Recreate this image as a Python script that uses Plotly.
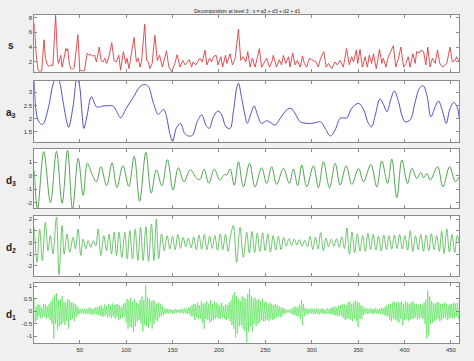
import plotly.graph_objects as go

# ---------------- data ----------------
title_text = "Decomposition at level 3 : s = a3 + d3 + d2 + d1"
panel_labels = ["<b>s</b>", "<b>a<sub>3</sub></b>", "<b>d<sub>3</sub></b>",
                "<b>d<sub>2</sub></b>", "<b>d<sub>1</sub></b>"]

x_ticks = [50, 100, 150, 200, 250, 300, 350, 400, 450]
x_ticklabels = ["50", "100", "150", "200", "250", "300", "350", "400", "450"]

s_ticks = [2, 4, 6, 8]
s_ticklabels = ["2", "4", "6", "8"]
a3_ticks = [1.5, 2, 2.5, 3]
a3_ticklabels = ["1.5", "2", "2.5", "3"]
d3_ticks = [-2, -1, 0, 1]
d3_ticklabels = ["-2", "-1", "0", "1"]
d2_ticks = [-2, -1, 0, 1, 2]
d2_ticklabels = ["-2", "-1", "0", "1", "2"]
d1_ticks = [-1, -0.5, 0, 0.5, 1]
d1_ticklabels = ["-1", "-0.5", "0", "0.5", "1"]

s_x = [1, 3, 5, 7, 9, 11.5, 13, 15, 17, 19,
       21, 24, 26, 27, 29.5, 31, 33, 35, 36, 37,
       38.5, 40, 42, 44, 48, 50, 52, 55, 58, 60,
       62, 64, 66, 68, 71, 73, 75, 77, 79, 81,
       84.5, 87, 89.5, 92, 94, 97, 99.5, 101, 103, 106,
       108.5, 111, 113, 115, 116.5, 120, 122, 124, 125.5, 128,
       131, 133.5, 136, 139, 143.5, 146, 149, 152.5, 155, 158,
       161, 163.5, 165, 168, 170.5, 172, 175, 179.5, 182, 185,
       187, 190, 192, 194, 197, 199, 202, 204, 207, 208.5,
       212, 214.5, 217.5, 221, 223.5, 226, 229, 231, 233.5, 236,
       239, 240.5, 243.5, 246, 248, 251.5, 254.5, 257, 258.5, 262,
       265, 267.5, 269.5, 272, 275, 276.5, 279.5, 282, 284.5, 287.5,
       290, 292, 294.5, 297.5, 300, 302, 304.5, 307, 309.5, 313,
       315.5, 318, 321.5, 325, 327.5, 330.5, 334, 337.5, 340.5, 343,
       345, 348, 349.5, 352, 354.5, 357.5, 360, 362, 364.5, 366.5,
       369.5, 373, 375.5, 377, 380, 382.5, 385, 388, 390.5, 393.5,
       396, 399, 401.5, 404, 406, 409, 411.5, 413, 416, 418,
       420.5, 423, 425, 427.5, 430, 433, 435.5, 438, 441, 445.5,
       449, 451.5, 454.5, 456, 459]
s_y = [7.2, 3.0, 0.9, 0.7, 0.8, 5.0, 2.5, 1.6, 1.4, 1.6,
       1.5, 8.3, 2.5, 1.8, 2.9, 1.3, 2.5, 3.8, 3.5, 3.8,
       2.0, 1.1, 1.0, 1.2, 5.7, 0.9, 0.8, 0.8, 3.2, 2.9,
       3.0, 2.8, 2.9, 2.0, 4.0, 2.2, 2.0, 2.5, 1.8, 2.5,
       4.6, 2.2, 2.0, 2.9, 0.9, 3.4, 1.8, 2.5, 1.1, 3.7,
       5.3, 2.0, 2.5, 1.3, 2.0, 7.1, 2.2, 2.0, 1.1, 1.8,
       5.6, 2.2, 2.9, 1.3, 3.5, 1.3, 0.7, 1.8, 3.0, 1.3,
       2.2, 1.6, 1.8, 2.3, 1.3, 2.0, 1.6, 2.5, 2.0, 3.6,
       1.6, 2.5, 2.0, 2.7, 2.9, 1.6, 2.7, 1.3, 2.9, 1.8,
       3.1, 1.6, 2.5, 6.4, 2.2, 2.7, 2.0, 3.4, 1.3, 2.5,
       1.3, 2.2, 3.8, 1.3, 1.8, 2.5, 1.3, 2.0, 2.9, 1.3,
       2.3, 1.6, 2.9, 1.8, 2.7, 1.3, 3.2, 1.6, 2.2, 1.3,
       2.8, 1.8, 1.3, 2.5, 2.3, 2.2, 2.0, 1.3, 2.5, 3.4,
       1.3, 1.8, 1.1, 2.0, 1.6, 2.2, 1.3, 3.8, 1.6, 2.7,
       2.0, 3.6, 1.8, 3.7, 1.3, 2.7, 1.3, 2.9, 1.8, 3.1,
       1.1, 3.7, 1.8, 2.5, 1.3, 2.7, 3.4, 4.2, 1.3, 2.5,
       4.0, 1.3, 1.8, 2.7, 1.3, 3.1, 1.8, 3.4, 3.2, 3.6,
       3.4, 1.6, 4.0, 1.3, 2.5, 1.8, 3.6, 1.8, 1.3, 1.8,
       4.0, 2.0, 2.2, 2.7, 2.0]

a3_pts = [(1, 3.41), (3, 2.26), (6, 1.88), (10, 1.78), (16, 2.39), (21, 3.28), (24.5, 3.6),
          (28, 3.41), (32, 2.64), (36, 1.88), (38, 1.67), (43, 2.52), (47, 3.6), (50, 3.2),
          (52, 2.39), (54.5, 1.63), (58, 2.14), (62.5, 2.83), (68, 2.45), (72, 2.45), (75, 2.48),
          (81, 2.49), (86, 2.48), (90, 2.26), (94, 2.03), (100, 2.39), (108, 2.83), (115, 3.22),
          (120, 3.30), (124, 3.22), (129, 2.64), (134.5, 2.16), (137.5, 2.26), (140.5, 2.35),
          (143.5, 2.07), (147, 1.44), (150, 1.14), (154, 1.63), (158.5, 1.82), (163, 1.44),
          (167, 1.34), (171.5, 1.37), (176.5, 1.88), (181.5, 2.14), (186, 1.75), (189.5, 1.63),
          (194, 2.07), (199, 2.29), (203, 2.14), (207.5, 1.69), (212, 1.63), (215.5, 2.26),
          (219, 3.15), (221, 3.34), (224.5, 2.77), (228, 2.14), (230.5, 1.82), (234, 2.14),
          (238, 2.48), (241.5, 2.14), (246, 1.82), (251.5, 1.92), (256, 1.84), (260.5, 1.75),
          (266, 2.01), (273, 2.33), (277.5, 2.39), (282, 2.2), (287.5, 1.88), (294.5, 1.82),
          (300, 1.82), (305.5, 1.86), (309.5, 1.88), (314.5, 1.63), (320, 1.34), (325, 1.56),
          (330.5, 2.01), (334, 2.03), (338, 2.03), (343, 2.39), (350.5, 2.58), (356, 2.33),
          (361, 1.82), (364.5, 1.69), (368.5, 2.14), (373.5, 2.75), (377.5, 2.52), (381, 2.26),
          (385.5, 2.77), (389, 3.05), (393.5, 2.64), (397, 2.14), (400.5, 1.88), (406, 1.95),
          (411.5, 2.64), (416, 3.15), (420, 3.25), (424, 2.9), (428.5, 2.07), (433, 2.45),
          (436.5, 2.67), (440.5, 2.33), (445, 1.82), (448.5, 2.33), (453, 2.62), (456.5, 2.45),
          (459, 2.0)]

d3_pts = [(1, 0.4), (4.5, -2.5), (11.2, 1.8), (18.4, -2.0), (24.9, 1.82), (31, -2.05),
          (36.8, 1.9), (42.2, -2.5), (48.3, 1.3), (53.7, -1.46), (58.2, 0.93), (63, 0.15),
          (68, -0.45), (72.7, 0.68), (79, -0.74), (84.8, 0.96), (90, -0.88), (96.5, 0.76),
          (102.8, -0.8), (108.7, 1.46), (114.5, -1.9), (121.2, 1.75), (127, -1.3), (132.5, 0.45),
          (138.5, -0.75), (144.5, 1.2), (150.5, -1.05), (156.2, 0.6), (162.3, -0.45), (169, 0.45),
          (176, -0.2), (179.5, -0.28), (184, 0.5), (189, -0.55), (195, 0.5), (201, -0.33),
          (205.8, 0.1), (208.3, 0.05), (212, 0.5), (216.5, -0.7), (221, 1.05), (226.3, -0.83),
          (233, 0.93), (238.8, -0.83), (246, 0.6), (251.4, -0.58), (256.8, 0.68), (262.2, -0.65),
          (269.4, 0.55), (275.9, -0.58), (280.2, 0.5), (284.9, -0.75), (289.2, 0.8), (294.6, -0.83),
          (301.8, 0.75), (307.2, -0.9), (312.6, 1.05), (319.1, -0.9), (325.2, 0.93), (330.6, -0.7),
          (337.1, 0.75), (343.2, -0.65), (350.4, 0.55), (355.8, -0.45), (363.7, 0.85), (370.1, -0.83),
          (375.5, 1.1), (381.7, -0.58), (386.3, 1.25), (391.7, -1.65), (397.1, 1.18), (403.2, -0.58),
          (407.9, 0.55), (413.3, -0.2), (417.6, 0.25), (420.5, -0.15), (424.1, 0.18), (427.7, -0.33),
          (435.6, 0.68), (441.4, -0.83), (448.6, 0.68), (454.7, -0.45), (459, -0.08)]

d2_pts = [(1, 1.31), (4, -1.69), (6.8, 1.17), (9.7, -1.54), (12.9, 1.74), (15.8, -0.69),
          (18.3, 0.6), (21.2, -0.97), (24.8, 2.17), (27.7, -2.75), (30.9, 1.46), (33.1, -0.97),
          (36.3, 0.74), (39.2, -0.83), (42.8, 0.46), (45.3, -0.54), (48.2, 1.17), (51.1, -1.11),
          (53.6, 0.31), (56.5, -0.54), (59, 0.17), (61.9, -0.4), (64.4, 0.17), (67.3, -0.26),
          (69.8, 1.17), (72.7, -1.11), (75.9, 0.6), (78.8, -0.69), (81.7, 0.74), (84.2, -0.97),
          (87.1, 0.89), (89.6, -1.11), (92.4, 0.89), (95.3, -1.26), (98.6, 0.89), (101.1, -1.4),
          (104, 1.03), (106.8, -1.4), (109.7, 1.17), (112.6, -1.54), (115.5, 1.31), (118.3, -1.54),
          (121.2, 1.37), (124.1, -1.6), (127.3, 1.6), (129.9, -1.54), (132.5, 2.03), (135, -1.4),
          (138.1, 0.74), (141, -0.69), (144.2, 0.6), (147.1, -0.54), (150, 0.55), (152.8, -0.6),
          (155.7, 0.7), (158.5, -0.5), (161.4, 0.45), (164.2, -0.35), (167, 0.4), (170, -0.45),
          (172.8, 0.5), (175.6, -0.6), (178.5, 0.65), (181.3, -0.55), (184.2, 0.7), (187, -0.6),
          (189.9, 0.55), (192.7, -0.5), (195.6, 0.6), (198.4, -0.65), (201.3, 0.75), (204.1, -0.6),
          (207, 0.7), (209.8, -0.75), (212.6, 0.6), (215.5, 1.46), (219, -1.7), (222.7, 1.31),
          (226.3, -1.26), (229.9, 0.89), (232.7, -0.9), (235.6, 0.95), (238.4, -0.85), (241.3, 0.8),
          (244.1, -0.75), (247, 0.85), (249.8, -0.7), (252.7, 0.75), (255.5, -0.8), (258.4, 0.6),
          (261.2, -0.65), (264, 0.55), (266.9, -0.6), (269.7, 0.45), (272.6, -0.3), (275.4, 0.35),
          (278.3, -0.25), (281.1, 0.3), (284, -0.2), (286.8, 0.25), (289.7, -0.3), (292.5, 0.2),
          (295.4, -0.35), (298.2, 0.55), (301.1, -0.6), (303.9, 0.45), (306.8, -0.55), (309.6, 0.85),
          (312.5, -0.7), (315.3, 0.4), (318.2, -0.35), (321, 0.3), (323.9, -0.3), (326.7, 0.35),
          (329.6, -0.4), (332.4, 0.5), (335.3, -0.5), (337.8, 1.26), (340.6, -1.0), (343.4, 0.9),
          (346.3, -0.85), (349.1, 0.75), (352, -0.7), (354.8, 0.6), (357.7, -0.75), (360.5, 0.8),
          (363.4, -0.6), (366.2, 0.7), (369.1, -0.65), (371.9, 0.55), (374.8, -0.7), (377.6, 0.65),
          (380.5, -0.6), (383.3, 0.6), (386.2, -0.55), (389, 0.65), (391.9, -0.5), (394.7, 0.7),
          (397.6, -0.55), (400.4, 0.6), (403.3, -0.65), (406.1, 1.03), (409, -0.75), (411.8, 0.6),
          (414.7, -0.6), (417.5, 0.7), (420.4, -0.75), (423.2, 0.65), (426.1, -0.7), (428.9, 0.75),
          (431.8, -0.6), (434.6, 0.6), (437.5, -0.75), (440, 1.0), (442.6, -0.95), (445.5, 1.17),
          (448.3, -0.8), (451.2, 0.7), (454, -0.85), (456.8, 0.6), (459, 0.0)]

d1_y = [
    0.55, -0.45, 0.2, -0.35, 0.3, -0.2, 0.25, -0.3, 0.15, -0.25,
    0.3, -0.2, 0.28, -0.3, 0.2, -0.25, 0.3, -0.35, 0.4, -0.5,
    0.55, -1.1, 0.65, -0.5, 0.72, -0.75, 0.45, -0.6, 0.5, -0.55,
    0.62, -0.45, 0.4, -0.55, 0.35, -0.4, 0.5, -0.7, 0.45, -0.35,
    0.35, -0.3, 0.35, -0.4, 0.3, -0.25, 0.2, -0.15, 0.12, -0.1,
    0.08, -0.1, 0.12, -0.08, 0.1, -0.12, 0.08, -0.1, 0.12, -0.1,
    0.15, -0.12, 0.1, -0.15, 0.12, -0.1, 0.15, -0.12, 0.18, -0.15,
    0.2, -0.18, 0.25, -0.2, 0.15, -0.22, 0.28, -0.15, 0.2, -0.25,
    0.3, -0.22, 0.25, -0.28, 0.32, -0.2, 0.25, -0.3, 0.28, -0.22,
    0.3, -0.35, 0.25, -0.3, 0.2, -0.25, 0.3, -0.2, 0.35, -0.45,
    0.5, -0.7, 0.45, -0.6, 0.55, -0.65, 0.4, -0.83, 0.5, -0.6,
    0.35, -0.4, 0.3, -0.35, 0.45, -0.5, 0.6, -0.8, 0.45, -0.55,
    1.05, -0.6, 0.55, -0.65, 0.5, -0.45, 0.4, -0.7, 0.45, -0.5,
    0.4, -0.35, 0.3, -0.4, 0.35, -0.25, 0.3, -0.2, 0.2, -0.15,
    0.12, -0.1, 0.1, -0.08, 0.1, -0.1, 0.08, -0.06, 0.08, -0.1,
    0.06, -0.08, 0.1, -0.06, 0.08, -0.05, 0.07, -0.08, 0.1, -0.06,
    0.08, -0.1, 0.12, -0.08, 0.1, -0.12, 0.15, -0.1, 0.18, -0.2,
    0.25, -0.2, 0.3, -0.35, 0.28, -0.25, 0.35, -0.3, 0.25, -0.3,
    0.4, -0.45, 0.3, -0.7, 0.35, -0.3, 0.4, -0.35, 0.3, -0.45,
    0.45, -0.4, 0.3, -0.35, 0.4, -0.3, 0.35, -0.25, 0.3, -0.3,
    0.25, -0.3, 0.35, -0.25, 0.2, -0.3, 0.3, -0.35, 0.25, -0.3,
    0.35, -0.4, 0.45, -0.55, 0.65, -0.7, 0.77, -1.05, 0.6, -0.9,
    0.5, -0.6, 0.4, -0.55, 0.6, -0.7, 0.55, -0.8, 0.5, -1.25,
    0.7, -0.83, 0.9, -0.6, 0.6, -0.8, 0.5, -0.5, 0.55, -0.6,
    0.45, -0.5, 0.5, -0.45, 0.4, -0.35, 0.5, -0.4, 0.35, -0.4,
    0.4, -0.35, 0.3, -0.4, 0.35, -0.3, 0.3, -0.35, 0.25, -0.3,
    0.3, -0.25, 0.25, -0.2, 0.2, -0.25, 0.15, -0.2, 0.15, -0.12,
    0.1, -0.08, 0.06, -0.05, 0.06, -0.05, 0.08, -0.1, 0.12, -0.15,
    0.2, -0.15, 0.18, -0.2, 0.15, -0.2, 0.25, -0.3, 0.45, -0.55,
    0.3, -0.2, 0.15, -0.12, 0.1, -0.12, 0.1, -0.08, 0.12, -0.1,
    0.1, -0.12, 0.08, -0.1, 0.12, -0.1, 0.08, -0.12, 0.1, -0.08,
    0.12, -0.1, 0.1, -0.12, 0.08, -0.1, 0.12, -0.08, 0.1, -0.12,
    0.15, -0.12, 0.18, -0.15, 0.2, -0.18, 0.15, -0.2, 0.22, -0.18,
    0.25, -0.2, 0.28, -0.25, 0.3, -0.35, 0.25, -0.3, 0.35, -0.3,
    0.4, -0.35, 0.3, -0.4, 0.35, -0.3, 0.45, -0.4, 0.38, -0.63,
    0.35, -0.3, 0.25, -0.3, 0.2, -0.15, 0.12, -0.1, 0.12, -0.1,
    0.08, -0.1, 0.12, -0.08, 0.1, -0.12, 0.1, -0.08, 0.12, -0.1,
    0.1, -0.08, 0.1, -0.12, 0.15, -0.12, 0.12, -0.15, 0.18, -0.2,
    0.25, -0.2, 0.3, -0.35, 0.3, -0.4, 0.35, -0.3, 0.4, -0.35,
    0.35, -0.4, 0.38, -0.45, 0.35, -0.3, 0.4, -0.56, 0.3, -0.35,
    0.4, -0.3, 0.35, -0.4, 0.3, -0.35, 0.35, -0.3, 0.4, -0.3,
    0.3, -0.25, 0.3, -0.35, 0.25, -0.3, 0.3, -0.25, 0.28, -0.3,
    0.35, -0.5, 0.45, -1.1, 0.84, -0.96, 0.6, -0.5, 0.4, -0.45,
    0.35, -0.4, 0.3, -0.35, 0.38, -0.3, 0.35, -0.4, 0.3, -0.35,
    0.3, -0.3, 0.35, -0.25, 0.3, -0.35, 0.25, -0.3, 0.3, -0.25,
    0.3, -0.3, 0.35, -0.25, 0.3, -0.2, 0.35, -0.3, 0.1]
d1_x = list(range(1, len(d1_y) + 1))

# ---------------- figure ----------------
W, H = 474, 361
x_left, x_right = 34.3, 459.3
panels_px = [(15, 72.3), (81, 141.5), (149, 208.3), (216, 276), (283.3, 343.3)]
y_ranges = [[0.6, 8.35], [1.13, 3.43], [-2.43, 2.0], [-2.86, 2.28], [-1.28, 1.12]]
colors = ["rgb(222,60,64)", "rgb(80,80,200)", "rgb(80,165,80)", "rgb(90,190,90)", "rgb(70,225,70)"]
shapes = ["linear", "spline", "spline", "spline", "linear"]
widths = [0.9, 1, 1, 0.9, 0.6]

a3_x, a3_y = zip(*a3_pts)
d3_x, d3_y = zip(*d3_pts)
d2_x, d2_y = zip(*d2_pts)
series = [(s_x, s_y), (a3_x, a3_y), (d3_x, d3_y), (d2_x, d2_y), (d1_x, d1_y)]
yticks = [(s_ticks, s_ticklabels), (a3_ticks, a3_ticklabels), (d3_ticks, d3_ticklabels),
          (d2_ticks, d2_ticklabels), (d1_ticks, d1_ticklabels)]

fig = go.Figure()
layout = dict(width=W, height=H, autosize=False,
              margin=dict(l=0, r=0, t=0, b=0),
              paper_bgcolor="#f0f0f0", plot_bgcolor="white",
              showlegend=False, font=dict(family="Liberation Sans, Arial, sans-serif", color="#333"))
annotations = []
frame_col = "#8a8a8a"
for i in range(5):
    k = "" if i == 0 else str(i + 1)
    top, bot = panels_px[i]
    xs, ys = series[i]
    fig.add_trace(go.Scatter(x=list(xs), y=list(ys), mode="lines",
                             line=dict(color=colors[i], width=widths[i], shape=shapes[i]),
                             xaxis="x" + k, yaxis="y" + k, hoverinfo="skip"))
    layout["xaxis" + k] = dict(domain=[x_left / W, x_right / W], range=[1, 459], anchor="y" + k,
                               showline=True, linecolor=frame_col, linewidth=1, mirror="ticks",
                               ticks="inside", ticklen=3, tickcolor=frame_col,
                               tickvals=x_ticks, ticktext=x_ticklabels,
                               showticklabels=(i == 4), showgrid=False, zeroline=False,
                               tickfont=dict(size=6, color="#333"))
    tv, tt = yticks[i]
    layout["yaxis" + k] = dict(domain=[1 - bot / H, 1 - top / H], range=y_ranges[i], anchor="x" + k,
                               showline=True, linecolor=frame_col, linewidth=1, mirror="ticks",
                               ticks="inside", ticklen=3, tickcolor=frame_col,
                               tickvals=tv, ticktext=tt, showgrid=False, zeroline=False,
                               tickfont=dict(size=6, color="#333"))
    annotations.append(dict(text=panel_labels[i], x=11 / W, y=1 - ((top + bot) / 2 + 2) / H,
                            xref="paper", yref="paper", showarrow=False,
                            xanchor="center", yanchor="middle",
                            font=dict(size=10, color="#222")))

annotations.append(dict(text=title_text, x=(x_left + x_right) / 2 / W, y=1 - 10.5 / H,
                        xref="paper", yref="paper", showarrow=False,
                        xanchor="center", yanchor="middle", font=dict(size=5, color="#222")))
layout["annotations"] = annotations
fig.update_layout(**layout)
fig.write_html("out.html", config={"displayModeBar": False},
               post_script="document.body.style.margin='0';document.body.style.padding='0';"
                           "document.body.style.overflow='hidden';document.body.style.background='#f0f0f0';")
